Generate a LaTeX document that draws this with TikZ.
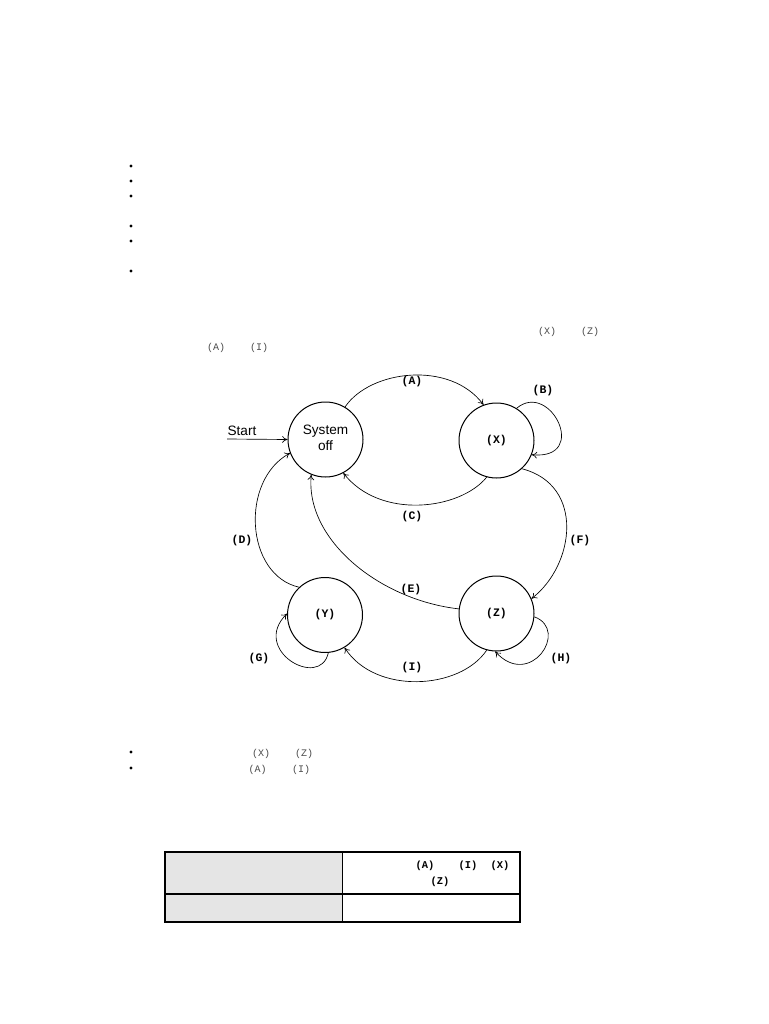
\documentclass[tikz,border=0pt]{standalone}
\usepackage{fontspec}
\usetikzlibrary{arrows.meta}
\setmainfont{Liberation Sans}
\newfontfamily\cour{Liberation Mono}
\begin{document}
\begin{tikzpicture}[x=0.75pt,y=-0.75pt,
  state/.style={circle,draw,line width=0.75pt,minimum size=56.25pt,inner sep=0pt,font=\fontsize{10.2}{12}\selectfont},
  blab/.style={font=\cour\bfseries\fontsize{8.6}{9}\selectfont,inner sep=0pt},
  txt/.style={font=\cour\fontsize{7.5}{8}\selectfont,text=black!70,inner sep=0pt},
  tlab/.style={font=\cour\bfseries\fontsize{7.8}{8}\selectfont,inner sep=0pt},
  edge/.style={line width=0.5pt,-{To[length=4pt,width=5pt]}},
  bul/.style={circle,fill=black,inner sep=0pt,minimum size=2.4pt}]
\useasboundingbox[fill=white] (0,0) rectangle (768,1024);

% bullets, upper list
\node[bul] (b1) at (131,166) {};
\node[bul] (b2) at (131,181) {};
\node[bul] (b3) at (131,196) {};
\node[bul] (b4) at (131,226) {};
\node[bul] (b5) at (131,241) {};
\node[bul] (b6) at (131,271) {};

% inline text
\node[txt] (t1) at (547,332) {(X)};
\node[txt] (t2) at (590,332) {(Z)};
\node[txt] (t3) at (216,348) {(A)};
\node[txt] (t4) at (259,348) {(I)};

% states
\node[state] (so) at (325.5,439.5) {\begin{tabular}{@{}c@{}}System\\[0pt]off\end{tabular}};
\node[state,font=\cour\bfseries\fontsize{8.6}{9}\selectfont] (x) at (496.5,440.5) {(X)};
\node[state,font=\cour\bfseries\fontsize{8.6}{9}\selectfont] (y) at (325,615) {(Y)};
\node[state,font=\cour\bfseries\fontsize{8.6}{9}\selectfont] (z) at (496.5,613.5) {(Z)};

% start
\coordinate (st) at (227,439);
\node[font=\fontsize{10.2}{11}\selectfont,inner sep=0pt] (stl) at (242,431) {Start};
\draw[edge] (st) -- (so.180);

% edges
\draw[edge] (so.59) .. controls (370,370) and (450,360) .. (x.110);
\draw[edge] (x.58) .. controls (550,380) and (590,460) .. (x.-22);
\draw[edge] (x.-105) .. controls (460,510) and (380,520) .. (so.-62);
\draw[edge] (x.-48) .. controls (585,485) and (575,565) .. (z.23);
\draw[edge] (y.133) .. controls (245,575) and (240,480) .. (so.201);
\draw[edge] (z.173) .. controls (380,600) and (305,540) .. (so.-112);
\draw[edge] (y.-85) .. controls (320,690) and (250,650) .. (y.178);
\draw[edge] (z.-5) .. controls (570,630) and (530,690) .. (z.-92);
\draw[edge] (z.-105) .. controls (460,690) and (375,695) .. (y.-59);

% edge labels
\node[blab] (la) at (412,382) {(A)};
\node[blab] (lb) at (543,391) {(B)};
\node[blab] (lc) at (412,517) {(C)};
\node[blab] (ld) at (242,541) {(D)};
\node[blab] (le) at (411,590) {(E)};
\node[blab] (lf) at (580,541) {(F)};
\node[blab] (lg) at (259,659) {(G)};
\node[blab] (lh) at (561,659) {(H)};
\node[blab] (li) at (412,668) {(I)};

% bullets, lower list
\node[bul] (b7) at (131,752) {};
\node[bul] (b8) at (131,768) {};
\node[txt] (t5) at (261,754) {(X)};
\node[txt] (t6) at (304,754) {(Z)};
\node[txt] (t7) at (257.5,770) {(A)};
\node[txt] (t8) at (301,770) {(I)};

% table
\fill[black!10] (165,852) rectangle (342.7,922);
\draw[line width=0.9pt] (165,852) rectangle (520,922);
\draw[line width=0.9pt] (342.7,852) -- (342.7,922);
\draw[line width=0.9pt] (165,894) -- (520,894);
\node[tlab] (ta) at (425,866) {(A)};
\node[tlab] (ti) at (468,866) {(I)};
\node[tlab] (tx) at (500,866) {(X)};
\node[tlab] (tz) at (440,882) {(Z)};
\end{tikzpicture}
\end{document}
